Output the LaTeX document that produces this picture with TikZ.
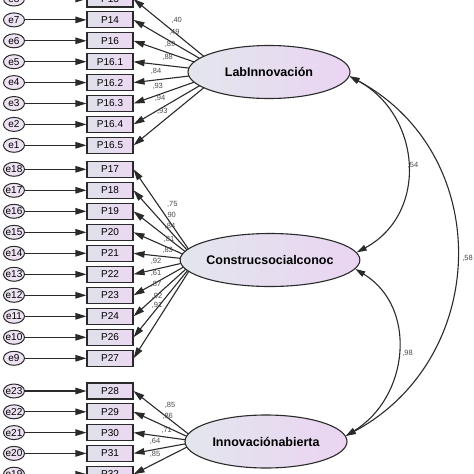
\documentclass[tikz,border=0pt]{standalone}
\usepackage{fontspec}
\setmainfont{Liberation Sans}
\usetikzlibrary{shapes.geometric,arrows.meta,backgrounds}

\definecolor{boxleft}{HTML}{DFE1EB}
\definecolor{boxright}{HTML}{ECD8F2}
\definecolor{latleft}{HTML}{E3E6ED}
\definecolor{latright}{HTML}{EAD4F2}
\definecolor{errfill}{HTML}{EEE3F3}
\definecolor{edge}{HTML}{2A2A2A}
\definecolor{loadgray}{HTML}{4A4A4A}

\begin{document}
\begin{tikzpicture}[
  x=1pt,
  y=-1pt,
  itembox/.style={
    draw=edge,
    rectangle,
    line width=1.1pt,
    left color=boxleft,
    right color=boxright,
    minimum width=46pt,
    minimum height=16pt,
    inner sep=0pt,
    font=\fontsize{10}{11}\selectfont
  },
  errnode/.style={
    draw=edge,
    ellipse,
    line width=1pt,
    fill=errfill,
    minimum width=21pt,
    minimum height=14pt,
    inner xsep=-1.5pt,
    inner ysep=0pt,
    font=\fontsize{10}{11}\selectfont
  },
  latentnode/.style={
    draw=edge,
    ellipse,
    line width=1.1pt,
    left color=latleft,
    right color=latright,
    minimum width=162pt,
    minimum height=53pt,
    inner sep=0pt,
    font=\fontsize{12.5}{14}\selectfont\bfseries
  },
  loadlabel/.style={
    font=\fontsize{7.5}{8}\selectfont,
    text=loadgray,
    inner sep=0pt
  },
  regpath/.style={
    draw=edge,
    line width=1.1pt,
    -{Triangle[length=11pt,width=6.5pt]}
  },
  covpath/.style={
    draw=edge,
    line width=1.1pt,
    {Triangle[length=10pt,width=6pt]}-{Triangle[length=10pt,width=6pt]}
  }
]

\useasboundingbox (0,0) rectangle (474,474);

% Latent variables
\node[latentnode] (lab) at (269,72) {LabInnovación};
\node[latentnode] (con) at (270,260) {Construcsocialconoc};
\node[latentnode] (inn) at (266,441.5) {Innovaciónabierta};

\coordinate (lab-f) at ([xshift=-46pt]lab.center);
\coordinate (con-f) at ([xshift=-74pt]con.center);
\coordinate (inn-f) at ([xshift=-68pt]inn.center);

% Indicators 1
\foreach \lbl/\er [count=\i from 0] in {P13/8,P14/7,P16/6,P16.1/5,P16.2/4,P16.3/3,P16.4/2,P16.5/1} {
  \node[itembox] (li-\i) at (110,-1+20.9*\i) {\lbl};
  \node[errnode] (e\er) at (14,-1+20.9*\i) {e\er};
  \draw[regpath] (e\er) -- (li-\i);
  \begin{pgfonlayer}{background}
    \draw[regpath] (lab-f) -- (li-\i.east);
  \end{pgfonlayer}
}

% Indicators 2
\foreach \lbl/\er [count=\i from 0] in {P17/18,P18/17,P19/16,P20/15,P21/14,P22/13,P23/12,P24/11,P26/10,P27/9} {
  \node[itembox] (ci-\i) at (110,169.3+21*\i) {\lbl};
  \node[errnode] (e\er) at (14,169.3+21*\i) {e\er};
  \draw[regpath] (e\er) -- (ci-\i);
  \begin{pgfonlayer}{background}
    \draw[regpath] (con-f) -- (ci-\i.east);
  \end{pgfonlayer}
}

% Indicators 3
\foreach \lbl/\er [count=\i from 0] in {P28/23,P29/22,P30/21,P31/20,P32/19} {
  \node[itembox] (ii-\i) at (110,391+20.8*\i) {\lbl};
  \node[errnode] (e\er) at (14,391+20.8*\i) {e\er};
  \draw[regpath] (e\er) -- (ii-\i);
  \begin{pgfonlayer}{background}
    \draw[regpath] (inn-f) -- (ii-\i.east);
  \end{pgfonlayer}
}

% Loadings
\foreach \x/\y/\v [count=\i] in {
  176.7/20.7/40, 174.3/32.3/49, 170/44.3/89, 167.7/57.3/88,
  156/71.7/84, 157.7/86/93, 160/98.3/94, 162.3/111/93,
  172.3/204.3/75, 170.7/215.7/90, 170/226.7/84, 169/239/81, 167.7/250/83,
  156/261/92, 156/273.3/61, 156/284.3/87, 157/296/92, 157/305.7/91,
  170/405/85, 167.7/416.7/86, 166.7/430/71, 155/441.7/64, 155/454/85} {
  \node[loadlabel] (ld-\i) at (\x,\y) {,\v};
}

% Covariances
\draw[covpath] (lab.-3) .. controls +(72,39) and +(72,-39) .. (con.5);
\draw[covpath] (con.-6) .. controls +(63,38.5) and +(63,-38.5) .. (inn.4);
\draw[covpath] (lab.-3) .. controls +(145,78) and +(145,-78) .. (inn.4);

\node[loadlabel] (r-lc) at (413,165) {,54};
\node[loadlabel] (r-ci) at (407.5,353) {,98};
\node[loadlabel] (r-li) at (467.5,258) {,58};

\end{tikzpicture}
\end{document}
